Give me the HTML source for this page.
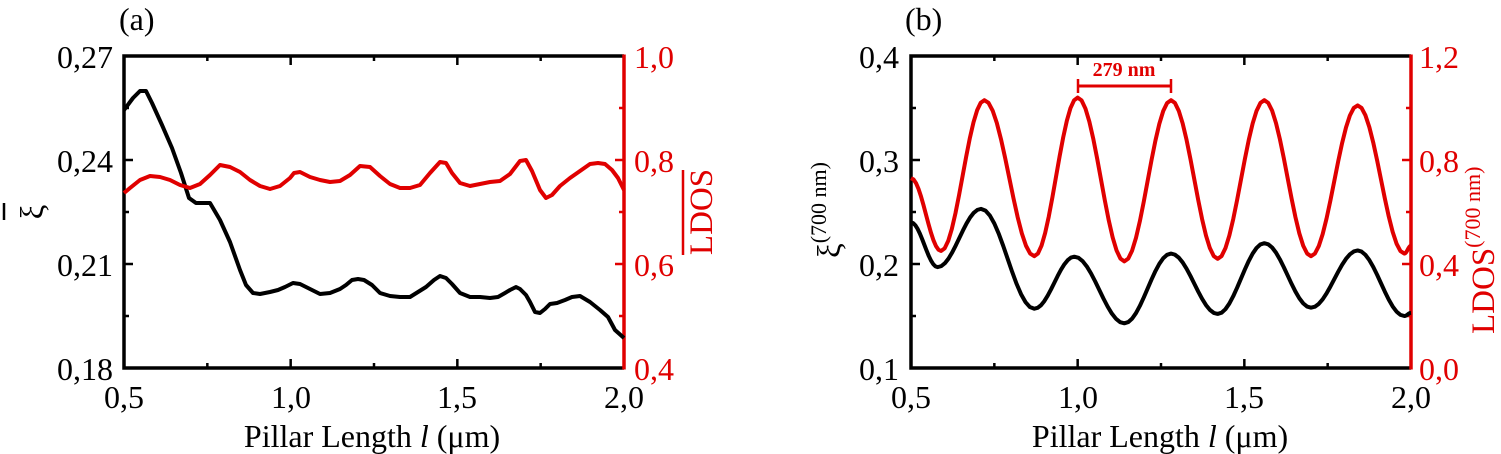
<!DOCTYPE html>
<html><head><meta charset="utf-8"><style>
body{margin:0;background:#fff;}
svg{display:block;font-family:"Liberation Serif",serif;}
</style></head><body>
<svg id="s" width="1501" height="454" viewBox="0 0 1501 454" xmlns="http://www.w3.org/2000/svg">
<g font-size="32">
<text x="119" y="30">(a)</text>
<text x="905" y="30">(b)</text>
</g>
<g id="g"></g>
<g font-size="32" text-anchor="end">
<text x="113" y="68">0,27</text><text x="113" y="172">0,24</text><text x="113" y="276">0,21</text><text x="113" y="380">0,18</text>
<text x="899" y="68">0,4</text><text x="899" y="172">0,3</text><text x="899" y="276">0,2</text><text x="899" y="380">0,1</text>
</g>
<g font-size="32" fill="#e00000">
<text x="634" y="68">1,0</text><text x="634" y="172">0,8</text><text x="634" y="276">0,6</text><text x="634" y="380">0,4</text>
<text x="1419" y="68">1,2</text><text x="1419" y="172">0,8</text><text x="1419" y="276">0,4</text><text x="1419" y="380">0,0</text>
</g>
<g font-size="32" text-anchor="middle">
<text x="124" y="408">0,5</text><text x="291" y="408">1,0</text><text x="457" y="408">1,5</text><text x="624" y="408">2,0</text>
<text x="911" y="408">0,5</text><text x="1078" y="408">1,0</text><text x="1244" y="408">1,5</text><text x="1411" y="408">2,0</text>
<text x="372" y="447">Pillar Length <tspan font-style="italic">l</tspan> (μm)</text>
<text x="1160" y="447">Pillar Length <tspan font-style="italic">l</tspan> (μm)</text>
</g>
<g font-size="33">
<text transform="translate(43,212) rotate(-90)" text-anchor="middle">ξ</text>
<line x1="4" y1="203" x2="4" y2="220" stroke="#000" stroke-width="2.5"/>
<text transform="translate(712,212) rotate(-90)" text-anchor="middle" fill="#e00000">LDOS</text>
<line x1="683" y1="170" x2="683" y2="255" stroke="#e00000" stroke-width="2.5"/>
<text transform="translate(840,258) rotate(-90)">ξ<tspan font-size="22" dy="-14">(700 nm)</tspan></text>
<text transform="translate(1494,334) rotate(-90)" fill="#e00000">LDOS<tspan font-size="22" dy="-14">(700 nm)</tspan></text>
</g>
<g fill="#e00000" stroke="#e00000">
<line x1="1078" y1="86" x2="1171" y2="86" stroke-width="3"/>
<line x1="1078" y1="79" x2="1078" y2="93" stroke-width="2.5"/>
<line x1="1171" y1="79" x2="1171" y2="93" stroke-width="2.5"/>
<text x="1124" y="76" font-size="20" font-weight="bold" text-anchor="middle" stroke="none">279 nm</text>
</g>
</svg>
<script>
const NS="http://www.w3.org/2000/svg",G=document.getElementById('g');
function el(t,a){const e=document.createElementNS(NS,t);for(const k in a)e.setAttribute(k,a[k]);G.appendChild(e);return e;}
function axes(L,R){const T=56,B=368;
 for(let i=0;i<=6;i++){const x=L+i*(R-L)/6,len=i%2?5:9;
  el('line',{x1:x,y1:B,x2:x,y2:B-len,stroke:'#000','stroke-width':2.5});
  el('line',{x1:x,y1:T,x2:x,y2:T+len,stroke:'#000','stroke-width':2.5});}
 for(let i=0;i<=6;i++){const y=T+i*(B-T)/6,len=i%2?5:9;
  el('line',{x1:L,y1:y,x2:L+len,y2:y,stroke:'#000','stroke-width':2.5});
  el('line',{x1:R,y1:y,x2:R-len,y2:y,stroke:'#e00000','stroke-width':2.5});}
 el('polyline',{points:`${R},${T} ${L},${T} ${L},${B} ${R},${B}`,fill:'none',stroke:'#000','stroke-width':3.5});
 el('line',{x1:R,y1:T-1.5,x2:R,y2:B+1.5,stroke:'#e00000','stroke-width':3.5});}
function poly(pts,c){el('polyline',{points:pts.map(p=>p.join(',')).join(' '),fill:'none',stroke:c,'stroke-width':4,'stroke-linejoin':'round'});}
function cosi(kp,X,Y){const out=[];for(let k=0;k<kp.length-1;k++){const [x0,y0]=kp[k],[x1,y1]=kp[k+1];
 for(let j=0;j<12;j++){const t=j/12,u=(1-Math.cos(Math.PI*t))/2;out.push([X(x0+(x1-x0)*t),Y(y0+(y1-y0)*u)]);}}
 const l=kp[kp.length-1];out.push([X(l[0]),Y(l[1])]);return out;}
axes(124,624);axes(911,1411);
const ab=[[124,110],[133,98],[140,91],[146,91],[152,103],[162,125],[172,148],[181,173],[189,198],[196,203],[204,203],[210,203],[220,220],[230,242],[240,270],[246,285],[253,293],[260,294],[270,292],[278,290],[285,287],[293,283],[300,284],[310,289],[320,294],[330,293],[340,289],[346,285],[352,280],[358,279],[364,280],[372,285],[380,293],[390,296],[400,297],[410,297],[418,292],[426,287],[434,280],[440,276],[446,278],[452,284],[460,293],[470,297],[480,297],[490,298],[498,297],[505,293],[510,290],[516,287],[520,289],[526,295],[530,302],[535,312],[540,313],[545,309],[550,304],[557,303],[565,300],[572,297],[580,296],[590,302],[600,310],[608,317],[615,330],[624,338]];
const ar=[[124,193],[130,188],[140,180],[150,176],[160,177],[170,180],[180,185],[190,188],[200,184],[210,175],[220,165],[230,167],[240,172],[250,180],[260,186],[270,189],[280,186],[290,178],[294,173],[300,172],[310,177],[320,180],[330,182],[340,181],[350,175],[360,166],[370,167],[380,176],[390,184],[400,188],[410,188],[420,185],[430,173],[440,162],[446,163],[452,173],[460,183],[470,186],[480,184],[490,182],[500,181],[510,174],[520,161],[526,160],[532,171],[540,190],[546,198],[552,195],[560,186],[570,178],[580,171],[590,164],[598,163],[605,164],[612,170],[618,178],[624,190]];
poly(ab,'#000');poly(ar,'#e00000');
const X=v=>911+(v-0.5)*333.33;
const bk=[[0.5,0.24],[0.58,0.197],[0.71,0.253],[0.87,0.157],[0.99,0.207],[1.14,0.143],[1.28,0.21],[1.42,0.152],[1.56,0.22],[1.70,0.158],[1.84,0.213],[1.98,0.15],[2.0,0.153]];
const rk=[[0.5,0.73],[0.59,0.45],[0.72,1.03],[0.87,0.43],[1.0,1.04],[1.14,0.41],[1.28,1.03],[1.42,0.42],[1.56,1.03],[1.70,0.43],[1.84,1.01],[1.98,0.44],[2.0,0.47]];
poly(cosi(bk,X,v=>368-(v-0.1)*1040),'#000');
poly(cosi(rk,X,v=>368-v*260),'#e00000');
</script>
</body></html>
